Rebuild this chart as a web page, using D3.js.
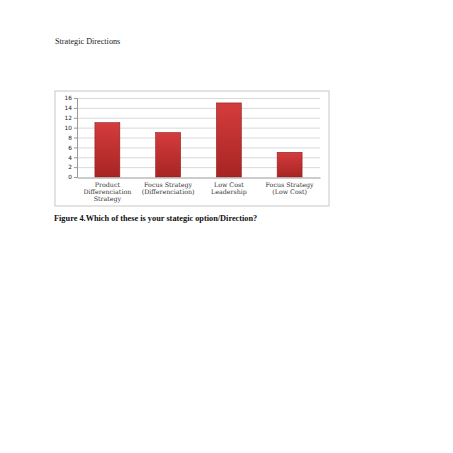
<!DOCTYPE html>
<html lang="en">
<head>
<meta charset="UTF-8">
<title>Strategic Directions</title>
<script src="https://d3js.org/d3.v7.min.js"></script>
<style>
  body { margin: 0; background: #fff; }
</style>
</head>
<body>
<script>
const categories = [
  ["Product", "Differenciation", "Strategy"],
  ["Focus Strategy", "(Differenciation)"],
  ["Low Cost", "Leadership"],
  ["Focus Strategy", "(Low Cost)"]
];
const values = [11, 9, 15, 5];
const yTicks = [0, 2, 4, 6, 8, 10, 12, 14, 16];

const w = 453, h = 453;
const box = {x: 55, y: 91, w: 274, h: 115};
const plot = {left: 77, right: 320, top: 98, bottom: 177};

const svg = d3.select("body").append("svg")
  .attr("width", w)
  .attr("height", h);

const defs = svg.append("defs");
const grad = defs.append("linearGradient")
  .attr("id", "barGrad")
  .attr("x1", 0).attr("y1", 0).attr("x2", 0).attr("y2", 1);
grad.append("stop").attr("offset", "0%").attr("stop-color", "#d43c3c");
grad.append("stop").attr("offset", "100%").attr("stop-color", "#a82424");

// page title
svg.append("text")
  .attr("x", 55).attr("y", 44)
  .attr("font-family", "Liberation Serif, Times New Roman, serif")
  .attr("font-size", 8.2)
  .attr("fill", "#222")
  .text("Strategic Directions");

// chart frame
svg.append("rect")
  .attr("x", box.x).attr("y", box.y)
  .attr("width", box.w).attr("height", box.h)
  .attr("fill", "#fff")
  .attr("stroke", "#c8c8c8")
  .attr("stroke-width", 1);

const x = d3.scaleBand()
  .domain(d3.range(categories.length))
  .range([plot.left, plot.right])
  .paddingInner(0.59)
  .paddingOuter(0.295);

const y = d3.scaleLinear()
  .domain([0, 16])
  .range([plot.bottom, plot.top]);

// gridlines
svg.append("g")
  .selectAll("line")
  .data(yTicks.filter(d => d > 0))
  .join("line")
  .attr("x1", plot.left).attr("x2", plot.right)
  .attr("y1", d => y(d) + 0.5).attr("y2", d => y(d) + 0.5)
  .attr("stroke", "#cfcfcf")
  .attr("stroke-width", 0.8);

// y axis
const yAxis = svg.append("g")
  .attr("transform", `translate(${plot.left},0)`)
  .call(d3.axisLeft(y).tickValues(yTicks).tickSize(3).tickPadding(2));
yAxis.select(".domain").attr("stroke", "#999");
yAxis.selectAll(".tick line").attr("stroke", "#999");
yAxis.selectAll("text")
  .attr("font-family", "DejaVu Sans, sans-serif")
  .attr("font-size", 5.8)
  .attr("fill", "#222");

// bars
svg.append("g")
  .selectAll("rect")
  .data(values)
  .join("rect")
  .attr("x", (d, i) => x(i))
  .attr("y", d => y(d))
  .attr("width", x.bandwidth())
  .attr("height", d => y(0) - y(d))
  .attr("fill", "url(#barGrad)")
  .attr("stroke", "#8e1c1c")
  .attr("stroke-width", 0.6);

// x axis line
const xAxis = svg.append("g")
  .attr("transform", `translate(0,${plot.bottom + 0.5})`)
  .call(d3.axisBottom(x).tickSize(0).tickFormat(""));
xAxis.select(".domain").attr("stroke", "#999");

// category labels
const labels = svg.append("g")
  .selectAll("text")
  .data(categories)
  .join("text")
  .attr("x", (d, i) => x(i) + x.bandwidth() / 2)
  .attr("y", 187)
  .attr("text-anchor", "middle")
  .attr("font-family", "DejaVu Serif, serif")
  .attr("font-size", 6.3)
  .attr("fill", "#333");
labels.selectAll("tspan")
  .data(d => d)
  .join("tspan")
  .attr("x", function () { return d3.select(this.parentNode).attr("x"); })
  .attr("dy", (d, i) => i === 0 ? 0 : 7.2)
  .text(d => d);

// caption
svg.append("text")
  .attr("x", 54).attr("y", 221)
  .attr("font-family", "Liberation Serif, Times New Roman, serif")
  .attr("font-size", 8.3)
  .attr("font-weight", "bold")
  .attr("fill", "#111")
  .text("Figure 4.Which of these is your stategic option/Direction?");
</script>
</body>
</html>
